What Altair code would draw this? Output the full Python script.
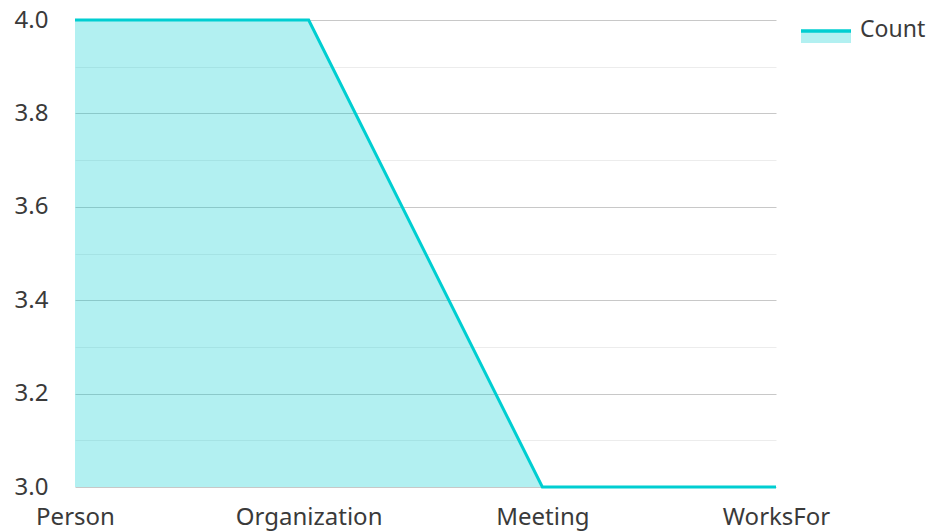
import altair as alt
import pandas as pd

categories = ["Person", "Organization", "Meeting", "WorksFor"]
counts = [4, 4, 3, 3]
y_ticks = [3.0, 3.1, 3.2, 3.3, 3.4, 3.5, 3.6, 3.7, 3.8, 3.9, 4.0]
y_floor = 3.0
series_name = "Count"

LINE = "#00CED1"
FONT = "Noto Sans"
TEXT = "#3a3a3a"

df = pd.DataFrame({"category": categories, "count": counts})

x_enc = alt.X("category:N", sort=categories,
              scale=alt.Scale(type="point", padding=0),
              axis=alt.Axis(title=None, grid=False, domain=False, ticks=False, tickSize=0,
                            labelAngle=0, labelFontSize=24, labelFont=FONT, labelColor=TEXT,
                            labelPadding=18, labelBaseline="top"))
y_enc = alt.Y("count:Q", scale=alt.Scale(domain=[3, 4], nice=False, zero=False),
              axis=alt.Axis(title=None, values=y_ticks, domain=False, ticks=False, tickSize=0,
                            labelFontSize=24, labelFont=FONT, labelColor=TEXT,
                            labelPadding=27,
                            labelExpr="round(datum.value*10) % 2 == 0 ? format(datum.value, '.1f') : ''",
                            gridColor={"condition": {"test": "round(datum.value*10) % 2 == 0",
                                                     "value": "#c8c8c8"},
                                       "value": "#ececec"},
                            gridWidth=1))

base = alt.Chart(df)
area = base.mark_area(color=LINE, opacity=0.3).encode(
    x=x_enc, y=y_enc, y2=alt.datum(y_floor))
line = base.mark_line(color=LINE, strokeWidth=3).encode(x=x_enc, y=y_enc)

leg_df = pd.DataFrame({"label": [series_name]})
leg = alt.Chart(leg_df)
leg_rect = leg.mark_rect(color=LINE, opacity=0.3).encode(
    x=alt.value(726), x2=alt.value(776), y=alt.value(12), y2=alt.value(23))
leg_line = leg.mark_rule(color=LINE, strokeWidth=3.5).encode(
    x=alt.value(726), x2=alt.value(776), y=alt.value(11))
leg_text = leg.mark_text(align="left", baseline="middle", fontSize=23, font=FONT,
                         color=TEXT).encode(
    x=alt.value(785), y=alt.value(10), text="label:N")

chart = alt.layer(area, line, leg_rect, leg_line, leg_text).properties(
    width=701, height=467,
    autosize=alt.AutoSizeParams(type="none"),
    padding={"left": 67, "top": 12, "right": 150, "bottom": 44},
).configure_view(stroke=None)

chart.save("out.html", embed_options={"renderer": "svg", "actions": False})
